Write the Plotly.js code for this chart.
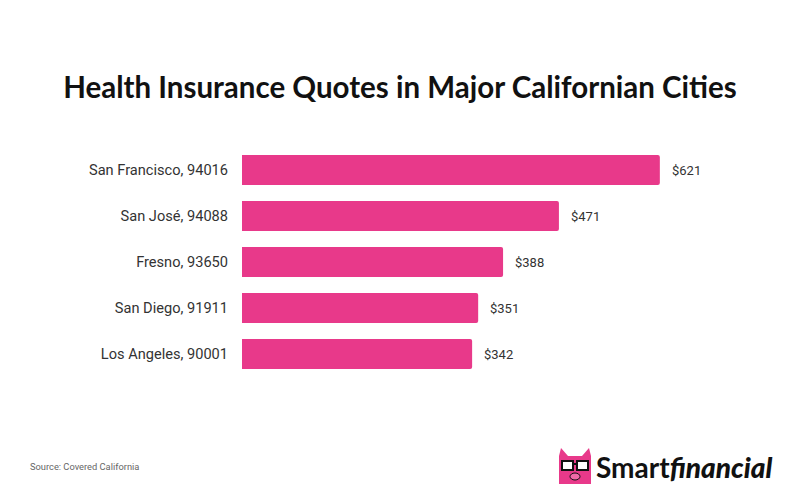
<!DOCTYPE html>
<html>
<head>
<meta charset="utf-8">
<script src="https://cdn.plot.ly/plotly-3.0.1.min.js"></script>
<style>html,body{margin:0;padding:0;background:#fff;}#chart{width:800px;height:500px;}</style>
</head>
<body>
<div id="chart"></div>
<script>
const cities = ["San Francisco, 94016", "San José, 94088", "Fresno, 93650", "San Diego, 91911", "Los Angeles, 90001"];
const quotes = [621, 471, 388, 351, 342];
const valueLabels = ["$621", "$471", "$388", "$351", "$342"];

const trace = {
  type: "bar",
  orientation: "h",
  y: cities,
  x: quotes,
  marker: { color: "#E8398A", cornerradius: 2 },
  width: 0.65,
  hoverinfo: "skip"
};

const px = v => (v - 242) / 471;
const py = v => (377 - v) / 230;

const annotations = cities.map((c, i) => ({
  x: quotes[i], y: c, xref: "x", yref: "y",
  text: valueLabels[i], showarrow: false,
  xanchor: "left", xshift: 10,
  font: { family: "Roboto", size: 13, color: "#333" }
}));

annotations.push(
  { xref: "paper", yref: "paper", x: px(28), y: py(466), xanchor: "left", yanchor: "middle",
    text: "Source: Covered California", showarrow: false,
    font: { family: "Roboto", size: 9.3, color: "#666" } },
  { xref: "paper", yref: "paper", x: px(594), y: py(467), xanchor: "left", yanchor: "middle",
    text: "<b>Smart</b><i>financial</i>", showarrow: false,
    font: { family: "Lato", size: 28, color: "#111", weight: 900 } }
);

const layout = {
  width: 800, height: 500,
  paper_bgcolor: "#fff", plot_bgcolor: "#fff",
  margin: { l: 242, r: 87, t: 147, b: 123 },
  title: {
    text: "<b>Health Insurance Quotes in Major Californian Cities</b>",
    x: 0.5, xref: "container", xanchor: "center", y: 0.824, yref: "container", yanchor: "middle",
    font: { family: "Lato", size: 29.5, color: "#111" }
  },
  xaxis: { range: [0, 700], visible: false, fixedrange: true },
  yaxis: {
    type: "category", autorange: "reversed",
    showgrid: false, zeroline: false, showline: false, ticks: "",
    ticklabelstandoff: 13,
    tickfont: { family: "Roboto", size: 14.6, color: "#333" }
  },
  annotations: annotations,
  showlegend: false
};

layout.shapes = [
  { type: "rect", xref: "paper", yref: "paper", x0: px(559), x1: px(591), y0: py(484), y1: py(456), fillcolor: "#E8398A", line: { width: 0 } },
  { type: "path", xref: "paper", yref: "paper", path: `M ${px(559)},${py(456)} L ${px(561)},${py(448)} L ${px(568)},${py(456)} Z`, fillcolor: "#E8398A", line: { width: 0 } },
  { type: "path", xref: "paper", yref: "paper", path: `M ${px(591)},${py(456)} L ${px(589)},${py(448)} L ${px(582)},${py(456)} Z`, fillcolor: "#E8398A", line: { width: 0 } },
  { type: "rect", xref: "paper", yref: "paper", x0: px(562), x1: px(573), y0: py(470), y1: py(461), fillcolor: "#fff", line: { color: "#111", width: 2 } },
  { type: "rect", xref: "paper", yref: "paper", x0: px(577), x1: px(588), y0: py(470), y1: py(461), fillcolor: "#fff", line: { color: "#111", width: 2 } },
  { type: "line", xref: "paper", yref: "paper", x0: px(573), x1: px(577), y0: py(464), y1: py(464), line: { color: "#111", width: 2 } },
  { type: "circle", xref: "paper", yref: "paper", x0: px(570), x1: px(580), y0: py(480), y1: py(473), fillcolor: "#f06aa8", line: { color: "#111", width: 1 } }
];

Plotly.newPlot("chart", [trace], layout, { displayModeBar: false, staticPlot: true });
</script>
</body>
</html>
